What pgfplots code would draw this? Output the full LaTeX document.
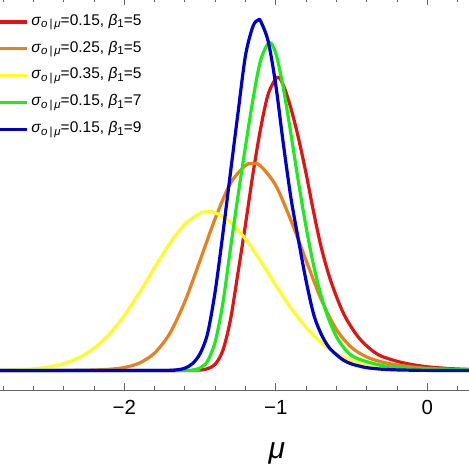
\documentclass[border=0pt]{standalone}
\usepackage{fontspec}
\setmainfont{Liberation Sans}
\usepackage{pgfplots}
\pgfplotsset{compat=1.18}
\definecolor{cred}{RGB}{225,20,20}
\definecolor{corange}{RGB}{232,128,30}
\definecolor{cyellow}{RGB}{255,250,40}
\definecolor{cgreen}{RGB}{30,235,30}
\definecolor{cblue}{RGB}{0,0,205}
\definecolor{axgray}{RGB}{100,100,100}
\newcommand{\sub}[1]{\raisebox{-0.3ex}{\fontsize{11.5}{13}\selectfont #1}}
\begin{document}
\begin{tikzpicture}
\begin{axis}[
  at={(0pt,0pt)}, anchor=south west,
  scale only axis, width=473pt, height=392pt,
  xmin=-2.8337, xmax=0.2884, ymin=-0.195, ymax=3.725,
  xtick={-2,-1,0}, xticklabels={−2,−1,0},
  minor xtick={-2.8,-2.6,-2.4,-2.2,-1.8,-1.6,-1.4,-1.2,-0.8,-0.6,-0.4,-0.2,0.2},
  ytick=\empty,
  tick align=inside,
  major tick length=7pt, minor tick length=4.5pt,
  axis line style={draw=axgray, line width=1pt},
  every tick/.style={axgray, line width=1pt},
  xticklabel style={font=\fontsize{20.4}{24}\selectfont, yshift=-7pt},
  xlabel={\textit{μ}},
  xlabel style={at={(axis description cs:0.5895,0)}, anchor=north, font=\fontsize{30}{34}\selectfont, yshift=-49pt},
  legend style={at={(axis description cs:0,1)}, anchor=north west, xshift=-13pt, yshift=-16pt,
    draw=none, fill=none, inner sep=0pt, font=\fontsize{15.5}{17}\selectfont,
    row sep=11.4pt, column sep=3pt,
    nodes={inner sep=0pt, text height=11pt, text depth=4.5pt}},
  legend cell align=left,
  legend image code/.code={\draw[#1] (0pt,0pt) -- (40pt,0pt);},
  every axis plot/.append style={line width=3.2pt, smooth, tension=0.5, line join=round},
]
\addplot[cred] coordinates {(-2.85,0) (-1.6,0) (-1.55,0.001) (-1.5,0.005) (-1.45,0.018) (-1.4,0.063) (-1.35,0.198) (-1.3,0.502) (-1.25,0.973) (-1.2,1.462) (-1.15,1.975) (-1.1,2.422) (-1.05,2.765) (-0.99,2.932) (-0.95,2.852) (-0.9,2.621) (-0.85,2.322) (-0.8,1.969) (-0.75,1.582) (-0.7,1.230) (-0.65,0.956) (-0.6,0.740) (-0.55,0.561) (-0.5,0.430) (-0.45,0.323) (-0.4,0.246) (-0.35,0.184) (-0.3,0.141) (-0.2,0.092) (-0.1,0.059) (0.0,0.037) (0.1,0.024) (0.2,0.015) (0.3,0.010)};
\addlegendentry{\textit{σ}\sub{\textit{o}\,|\,\textit{μ}}=0.15, \textit{β}\sub{1}=5}
\addplot[corange] coordinates {(-2.85,0) (-2.4,0.001) (-2.3,0.002) (-2.2,0.005) (-2.1,0.012) (-2.0,0.03) (-1.9,0.075) (-1.8,0.175) (-1.7,0.37) (-1.6,0.69) (-1.5,1.10) (-1.4,1.52) (-1.3,1.87) (-1.2,2.05) (-1.149,2.07) (-1.1,2.045) (-1.0,1.85) (-0.9,1.50) (-0.8,1.10) (-0.7,0.71) (-0.6,0.41) (-0.5,0.23) (-0.4,0.135) (-0.3,0.085) (-0.2,0.055) (-0.1,0.035) (0.0,0.022) (0.1,0.014) (0.2,0.009) (0.3,0.006)};
\addlegendentry{\textit{σ}\sub{\textit{o}\,|\,\textit{μ}}=0.25, \textit{β}\sub{1}=5}
\addplot[cyellow] coordinates {(-2.85,0.002) (-2.8,0.003) (-2.7,0.007) (-2.6,0.016) (-2.5,0.034) (-2.4,0.068) (-2.3,0.127) (-2.2,0.222) (-2.1,0.361) (-2.0,0.549) (-1.9,0.778) (-1.8,1.029) (-1.7,1.270) (-1.6,1.463) (-1.5,1.572) (-1.446,1.588) (-1.4,1.578) (-1.3,1.486) (-1.2,1.315) (-1.1,1.093) (-1.0,0.853) (-0.9,0.625) (-0.8,0.431) (-0.7,0.279) (-0.6,0.170) (-0.5,0.097) (-0.4,0.052) (-0.3,0.026) (-0.2,0.012) (-0.1,0.006) (0.0,0.002) (0.1,0.001) (0.3,0.0)};
\addlegendentry{\textit{σ}\sub{\textit{o}\,|\,\textit{μ}}=0.35, \textit{β}\sub{1}=5}
\addplot[cgreen] coordinates {(-2.85,0) (-1.6,0.001) (-1.55,0.005) (-1.5,0.025) (-1.45,0.095) (-1.4,0.289) (-1.35,0.667) (-1.3,1.210) (-1.25,1.741) (-1.2,2.241) (-1.15,2.718) (-1.1,3.103) (-1.043,3.278) (-1.0,3.172) (-0.95,2.822) (-0.9,2.365) (-0.85,1.880) (-0.8,1.434) (-0.75,1.048) (-0.7,0.743) (-0.65,0.512) (-0.6,0.339) (-0.55,0.225) (-0.5,0.150) (-0.45,0.113) (-0.4,0.088) (-0.3,0.050) (-0.2,0.030) (-0.1,0.022) (0.0,0.017) (0.1,0.013) (0.2,0.010) (0.3,0.008)};
\addlegendentry{\textit{σ}\sub{\textit{o}\,|\,\textit{μ}}=0.15, \textit{β}\sub{1}=7}
\addplot[cblue] coordinates {(-2.85,0) (-1.75,0) (-1.7,0.002) (-1.65,0.007) (-1.6,0.023) (-1.55,0.069) (-1.5,0.168) (-1.45,0.372) (-1.4,0.793) (-1.35,1.36) (-1.3,1.97) (-1.25,2.57) (-1.2,3.151) (-1.15,3.445) (-1.1155,3.505) (-1.1,3.493) (-1.05,3.290) (-1.0,2.853) (-0.95,2.264) (-0.9,1.725) (-0.85,1.30) (-0.8,0.896) (-0.75,0.561) (-0.7,0.362) (-0.65,0.233) (-0.6,0.158) (-0.55,0.100) (-0.5,0.065) (-0.45,0.045) (-0.4,0.028) (-0.3,0.013) (-0.2,0.006) (-0.1,0.003) (0.0,0.001) (0.3,0.0)};
\addlegendentry{\textit{σ}\sub{\textit{o}\,|\,\textit{μ}}=0.15, \textit{β}\sub{1}=9}
\end{axis}
\pgfresetboundingbox
\path[use as bounding box] (2pt,-79pt) rectangle (471pt,390pt);
\end{tikzpicture}
\end{document}
